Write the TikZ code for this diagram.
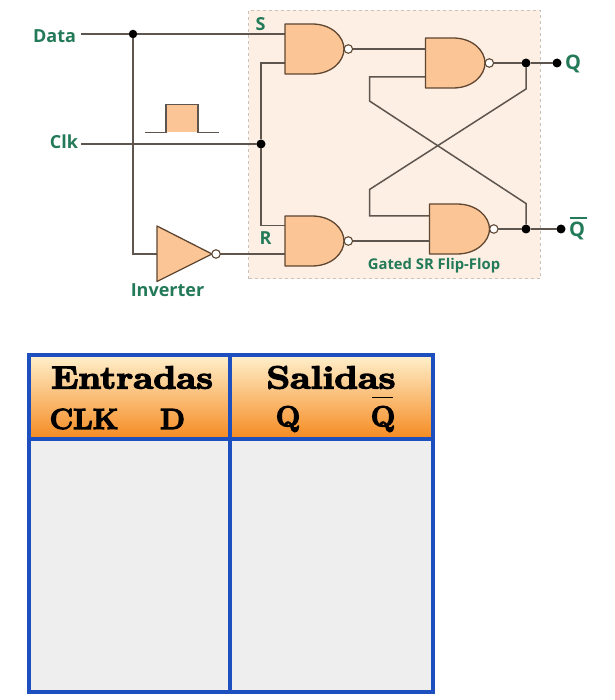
\documentclass[tikz,border=0pt]{standalone}
\usepackage{fontspec}
\newfontfamily\labelfont{Open Sans}
\newfontfamily\tblfont{Latin Modern Roman}[BoldFeatures={FakeBold=4}]
\usetikzlibrary{calc}
\definecolor{lblgreen}{HTML}{237A58}
\definecolor{wirecol}{HTML}{5E564E}
\definecolor{gatefill}{HTML}{FBC596}
\definecolor{gateline}{HTML}{5F4630}
\definecolor{panelfill}{HTML}{FDEFE4}
\definecolor{panelline}{HTML}{C9C2BA}
\definecolor{tblblue}{HTML}{1D4FBF}
\definecolor{hdtop}{HTML}{FFF0CC}
\definecolor{hdbot}{HTML}{F58B22}
\definecolor{bodygray}{HTML}{EEEEEE}
\tikzset{
  every node/.style={outer sep=0pt},
  wire/.style={draw=wirecol,line width=1.5pt},
  gatebody/.style={draw=gateline,line width=1.3pt,fill=gatefill,line join=round},
  bubble/.style={circle,draw=gateline,line width=1.1pt,fill=white,minimum size=8.5pt,inner sep=0pt},
  jdot/.style={circle,fill=black,minimum size=9pt,inner sep=0pt},
  lbl/.style={text=lblgreen,font=\labelfont\fontsize{18}{20}\selectfont\bfseries,inner sep=0pt},
  lblq/.style={text=lblgreen,font=\labelfont\fontsize{20}{22}\selectfont\bfseries,inner sep=0pt},
  lblsmall/.style={text=lblgreen,font=\labelfont\fontsize{14.8}{16}\selectfont\bfseries,inner sep=0pt},
  tcell/.style={draw=tblblue,line width=4pt,inner sep=0pt},
  thead/.style={text=black,font=\tblfont\bfseries\fontsize{32}{34}\selectfont,inner sep=0pt},
  tsub/.style={text=black,font=\tblfont\bfseries\fontsize{29}{31}\selectfont,inner sep=0pt},
}
% name, left x, top y, flat-end x, tip x
\newcommand{\nandgate}[5]{%
  \draw[gatebody] (#2,#3) -- (#4,#3)
    .. controls ({#4+20},#3) and (#5,{#3+13}) .. (#5,{#3+25})
    .. controls (#5,{#3+37}) and ({#4+20},{#3+50}) .. (#4,{#3+50})
    -- (#2,{#3+50}) -- cycle;
  \node[bubble] (#1) at ({#5+4.3},{#3+25}) {};
}
\begin{document}
\begin{tikzpicture}[x=1pt,y=-1pt]
\useasboundingbox (0,0) rectangle (614,700);
\fill[white] (0,0) rectangle (614,700);
% panel
\node[draw=panelline,dashed,line width=1pt,fill=panelfill,minimum width=291.5pt,minimum height=268pt,inner sep=0pt,anchor=north west] (panel) at (248.5,10.5) {};
% labels with wire ends
\node[lbl,anchor=east] (data) at (76,36) {Data};
\node[lbl,anchor=east] (clk) at (78,142) {Clk};
\coordinate (dataend) at (81,34);
\coordinate (clkend) at (81,144);
% junctions
\node[jdot,minimum size=8.5pt] (j1) at (133,34) {};
\node[jdot] (j2) at (261,144) {};
\node[jdot] (j3) at (526,63) {};
\node[jdot] (j4) at (526,229) {};
\node[jdot] (qd) at (557,63) {};
\node[jdot] (nqd) at (561,229) {};
% coordinates
\coordinate (g1a) at (285,34);
\coordinate (g1b) at (285,63);
\coordinate (g2a) at (425.5,49);
\coordinate (g2b) at (425.5,77);
\coordinate (g3a) at (285,225.5);
\coordinate (g3b) at (285,254);
\coordinate (g4a) at (429.5,216);
\coordinate (g4b) at (429.5,241);
\coordinate (c1) at (369.5,101);
\coordinate (c2) at (526,203.5);
\coordinate (c3) at (526,89);
\coordinate (c4) at (369.5,189.5);
% wires
\draw[wire] (dataend) -- (j1) -- (g1a);
\draw[wire] (clkend) -- (j2);
\draw[wire] (g1b) -| (j2);
\draw[wire] (g3a) -| (j2);
\draw[wire] (j1) |- (157,254);
\draw[wire] (g2b) -| (c1) -- (c2) -- (j4);
\draw[wire] (j3) -- (c3) -- (c4) |- (g4a);
\draw[wire] (j3) -- (qd);
\draw[wire] (j4) -- (nqd);
% pulse
\fill[gatefill] (166,132.5) -- (166,104.5) -- (198,104.5) -- (198,132.5) -- cycle;
\draw[wire] (145,132.5) -- (166,132.5) -- (166,104.5) -- (198,104.5) -- (198,132.5) -- (219,132.5);
% gates
\nandgate{g1o}{285}{24}{312}{344}
\nandgate{g2o}{425.5}{38}{453}{485}
\nandgate{g3o}{285}{216}{312}{344}
\nandgate{g4o}{429.5}{204}{457}{489.5}
\draw[gatebody] (157,226) -- (212,254) -- (157,281.5) -- cycle;
\node[bubble] (invo) at (216,254) {};
\draw[wire] (g1o) -- (g2a);
\draw[wire] (g2o) -- (j3);
\draw[wire] (g3o) -- (g4b);
\draw[wire] (g4o) -- (j4);
\draw[wire] (invo) -- (g3b);
% text
\node[lbl] (slbl) at (260.5,24) {S};
\node[lbl] (rlbl) at (265.5,238.5) {R};
\node[lblq,anchor=west] (qlbl) at (565,63.5) {Q};
\node[lblq,anchor=west] (nqlbl) at (569,231) {Q};
\draw[lblgreen,line width=1.2pt] (570,218) -- (587,218);
\node[lblsmall] (gated) at (434,266) {Gated SR Flip-Flop};
\node[lbl] (inv) at (167.5,290.5) {Inverter};
% table
\node[anchor=north west,minimum width=200.5pt,minimum height=83.5pt,top color=hdtop,bottom color=hdbot,inner sep=0pt] (h1) at (29,355) {};
\node[anchor=north west,minimum width=203.5pt,minimum height=83.5pt,top color=hdtop,bottom color=hdbot,inner sep=0pt] (h2) at (229.5,355) {};
\node[tcell,fill=bodygray,anchor=north west,minimum width=200.5pt,minimum height=253pt] (b1) at (29,438.5) {};
\node[tcell,fill=bodygray,anchor=north west,minimum width=203.5pt,minimum height=253pt] (b2) at (229.5,438.5) {};
\node[tcell,anchor=north west,minimum width=200.5pt,minimum height=83.5pt] (hb1) at (29,355) {};
\node[tcell,anchor=north west,minimum width=203.5pt,minimum height=83.5pt] (hb2) at (229.5,355) {};
\node[thead] (ent) at (132,377.5) {\scalebox{1.15}[1]{Entradas}};
\node[thead] (sal) at (331,377.5) {\scalebox{1.18}[1]{Salidas}};
\node[tsub] (tclk) at (84,419) {CLK};
\node[tsub] (td) at (172.5,419) {D};
\node[tsub] (tq) at (288,419) {Q};
\node[tsub] (tnq) at (383,419) {Q};
\draw[black,line width=1.8pt] (372,397.5) -- (393,397.5);
\end{tikzpicture}
\end{document}
